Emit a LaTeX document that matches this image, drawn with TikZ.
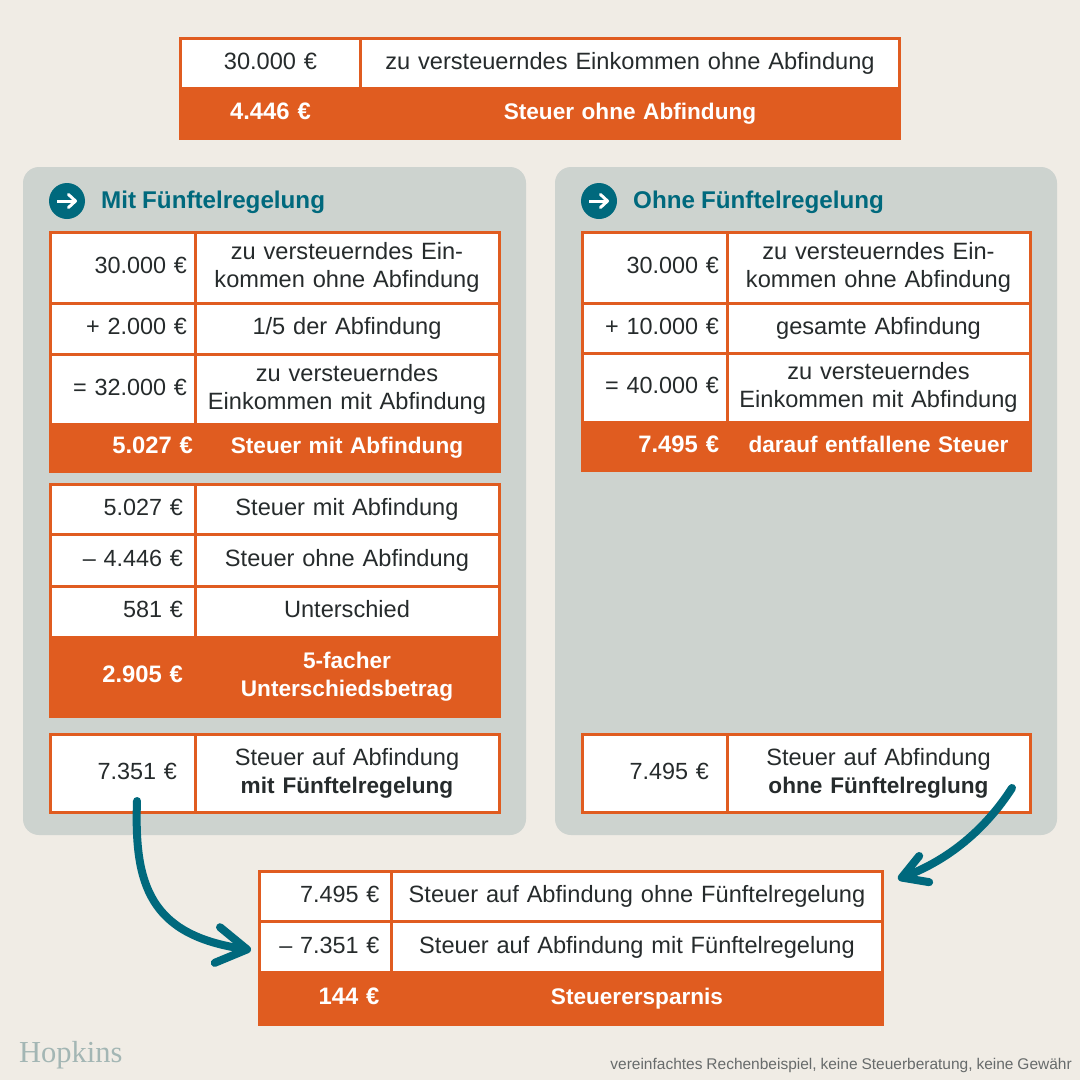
\documentclass[tikz,border=0pt]{standalone}
\usepackage{fontspec}
\setmainfont[WordSpace=0.9]{Liberation Sans}
\newfontfamily\logofont{Liberation Serif}
\usepackage{xcolor}
\usepackage{tikz}
\usetikzlibrary{positioning, arrows.meta}
\definecolor{pagebg}{HTML}{F0ECE5}
\definecolor{panelbg}{HTML}{CDD3CF}
\definecolor{rust}{HTML}{E05C20}
\definecolor{petrol}{HTML}{00697D}
\definecolor{ink}{HTML}{262B2C}
\definecolor{logogray}{HTML}{A3B6B4}
\newcommand{\cellstrut}{\rule[-8pt]{0pt}{28pt}}
\newcommand{\cellbold}[1]{{\fontsize{22.6}{28}\selectfont\bfseries #1}}
\tikzset{
  panelbox/.style={fill=panelbg, rounded corners=16pt, anchor=north west, inner sep=0pt, outer sep=0pt},
  cellbase/.style={draw=rust, line width=3pt, anchor=north west, outer sep=0pt, minimum height=#1, execute at begin node=\cellstrut, execute at end node=\cellstrut},
  valcell/.style n args={3}{cellbase=#2, fill=white, text=ink, minimum width=#1, inner xsep=#3, inner ysep=0pt, text width=#1-2*#3, align=right, font=\fontsize{23.4}{28}\selectfont},
  labcell/.style n args={2}{cellbase=#2, fill=white, text=ink, minimum width=#1, inner sep=0pt, text width=#1, align=center, font=\fontsize{23.6}{28}\selectfont},
  bandval/.style n args={3}{valcell={#1}{#2}{#3}, fill=rust, text=white, font=\fontsize{23.8}{28}\selectfont\bfseries},
  bandlab/.style n args={2}{labcell={#1}{#2}, fill=rust, text=white, font=\fontsize{22.6}{28}\selectfont\bfseries},
  headtext/.style={anchor=base west, inner sep=0pt, text=petrol, font=\fontsize{24.2}{28}\selectfont\bfseries},
  roundicon/.style={circle, fill=petrol, minimum size=36pt, inner sep=0pt},
  handarrow/.style n args={2}{draw=petrol, line width=8pt, line cap=round, -{Straight Barb[length=#1, width=#2, line width=8pt, round]}}
}
\begin{document}
\begin{tikzpicture}[x=1pt, y=-1pt]
\useasboundingbox (0,0) rectangle (1080,1080);
\fill[pagebg] (0,0) rectangle (1080,1080);
% top table
\node[labcell={180}{50}] (topval) at (180.5,38.5) {30.000 €};
\node[labcell={539}{50}] (toplab) at (360.5,38.5) {zu versteuerndes Einkommen ohne Abfindung};
\node[bandlab={180}{50}, font=\fontsize{23.8}{28}\selectfont\bfseries] (topsum) at (180.5,88.5) {4.446 €};
\node[bandlab={539}{50}] (toptax) at (360.5,88.5) {Steuer ohne Abfindung};
% panels
\node[panelbox, minimum width=503pt, minimum height=668pt] (panelmit) at (23,167) {};
\node[panelbox, minimum width=502pt, minimum height=668pt] (panelohne) at (555,167) {};
\node[roundicon] (iconmit) at (67,201) {};
\node[roundicon] (iconohne) at (599,201) {};
\draw[white, line width=3pt, -{Straight Barb[length=7pt, width=13pt, round]}] ([xshift=-10pt]iconmit.center) -- ([xshift=10pt]iconmit.center);
\draw[white, line width=3pt, -{Straight Barb[length=7pt, width=13pt, round]}] ([xshift=-10pt]iconohne.center) -- ([xshift=10pt]iconohne.center);
\node[headtext] (headmit) at (101,208) {Mit Fünftelregelung};
\node[headtext] (headohne) at (633,208) {Ohne Fünftelregelung};
% left panel, first table
\node[valcell={145}{71}{8}] (mita) at (50,232) {30.000 €};
\node[labcell={304}{71}] (mitb) at (195,232) {zu versteuerndes Ein-\\kommen ohne Abfindung};
\node[valcell={145}{51}{8}] (mitc) at (50,303) {+ 2.000 €};
\node[labcell={304}{51}] (mitd) at (195,303) {1/5 der Abfindung};
\node[valcell={145}{70}{8}] (mite) at (50,354) {= 32.000 €};
\node[labcell={304}{70}] (mitf) at (195,354) {zu versteuerndes\\Einkommen mit Abfindung};
\node[bandval={145}{47}{2}] (mitg) at (50,424) {5.027 €};
\node[bandlab={304}{47}] (mith) at (195,424) {Steuer mit Abfindung};
% left panel, second table
\node[valcell={145}{50}{12}] (diffa) at (50,484) {5.027 €};
\node[labcell={304}{50}] (diffb) at (195,484) {Steuer mit Abfindung};
\node[valcell={145}{52}{12}] (diffc) at (50,534) {– 4.446 €};
\node[labcell={304}{52}] (diffd) at (195,534) {Steuer ohne Abfindung};
\node[valcell={145}{51}{12}] (diffe) at (50,586) {581 €};
\node[labcell={304}{51}] (difff) at (195,586) {Unterschied};
\node[bandval={145}{79}{12}] (diffg) at (50,637) {2.905 €};
\node[bandlab={304}{79}] (diffh) at (195,637) {5-facher\\Unterschiedsbetrag};
% left panel, result
\node[valcell={145}{78}{18}] (resa) at (50,734.5) {7.351 €};
\node[labcell={304}{78}] (resb) at (195,734.5) {Steuer auf Abfindung\\\cellbold{mit Fünftelregelung}};
% right panel, first table
\node[valcell={145}{71}{8}] (ohnea) at (582,232) {30.000 €};
\node[labcell={303}{71}] (ohneb) at (727,232) {zu versteuerndes Ein-\\kommen ohne Abfindung};
\node[valcell={145}{50}{8}] (ohnec) at (582,303) {+ 10.000 €};
\node[labcell={303}{50}] (ohned) at (727,303) {gesamte Abfindung};
\node[valcell={145}{69}{8}] (ohnee) at (582,353) {= 40.000 €};
\node[labcell={303}{69}] (ohnef) at (727,353) {zu versteuerndes\\Einkommen mit Abfindung};
\node[bandval={145}{47}{8}] (ohneg) at (582,423) {7.495 €};
\node[bandlab={303}{47}] (ohneh) at (727,423) {darauf entfallene Steuer};
% right panel, result
\node[valcell={145}{78}{18}] (endea) at (582,734.5) {7.495 €};
\node[labcell={303}{78}] (endeb) at (727,734.5) {Steuer auf Abfindung\\\cellbold{ohne Fünftelreglung}};
% bottom table
\node[valcell={132}{50}{12}] (sparc) at (259.5,871.5) {7.495 €};
\node[labcell={491}{50}] (spard) at (391.5,871.5) {Steuer auf Abfindung ohne Fünftelregelung};
\node[valcell={132}{51}{12}] (spare) at (259.5,921.5) {– 7.351 €};
\node[labcell={491}{51}] (sparf) at (391.5,921.5) {Steuer auf Abfindung mit Fünftelregelung};
\node[bandval={132}{52}{12}] (sparg) at (259.5,972.5) {144 €};
\node[bandlab={491}{52}] (sparh) at (391.5,972.5) {Steuerersparnis};
% arrows
\coordinate (mitstart) at (137,801);
\coordinate (mitend) at (251,950);
\coordinate (ohnestart) at (1012,788);
\coordinate (ohneend) at (898,879);
\draw[handarrow={30pt}{36pt}] (mitstart) .. controls (134,885) and (150,935) .. (mitend);
\draw[handarrow={24pt}{28pt}] (ohnestart) .. controls (985,830) and (948,860) .. (ohneend);
% footer
\node[anchor=west, inner sep=0pt, text=logogray, font=\fontsize{30.5}{34}\logofont] (logo) at (19,1055) {Hopkins};
\node[anchor=east, inner sep=0pt, text=ink!70, font=\fontsize{15.5}{18}\selectfont] (note) at (1072,1065) {vereinfachtes Rechenbeispiel, keine Steuerberatung, keine Gewähr};
\end{tikzpicture}
\end{document}
